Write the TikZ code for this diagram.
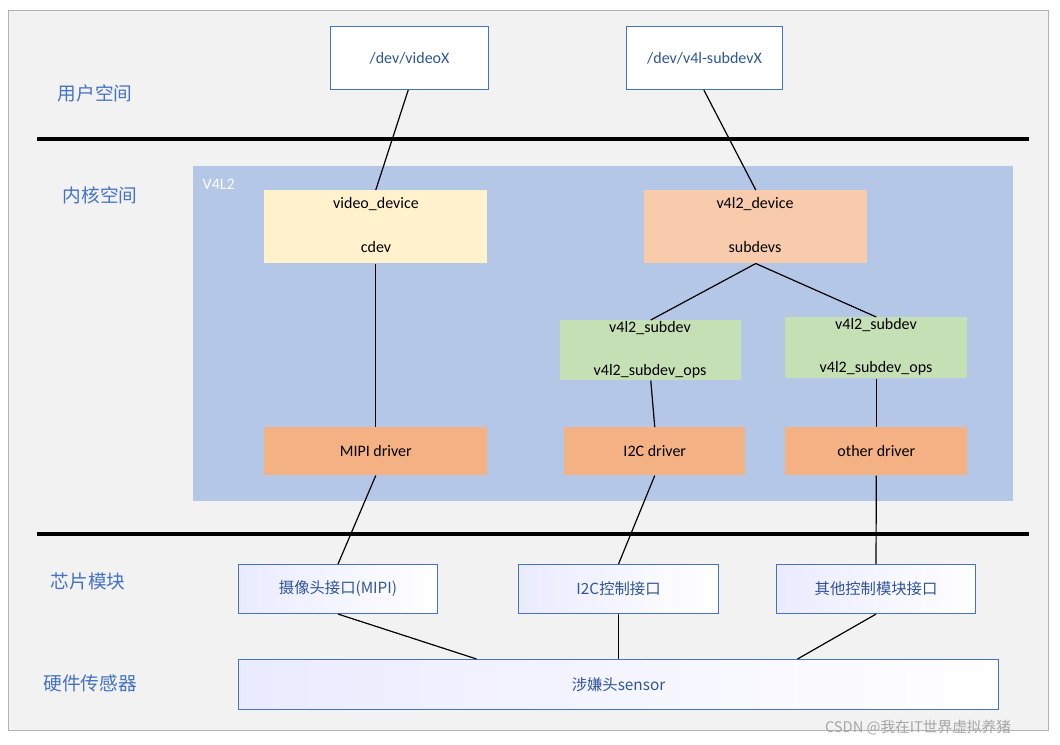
\documentclass[tikz,border=0pt]{standalone}
\usepackage{fontspec}
\setmainfont{Carlito}
\newfontfamily\cjk{Noto Sans CJK SC}
\definecolor{bl}{HTML}{4472C4}
\definecolor{tb}{HTML}{2F5597}
\definecolor{kern}{HTML}{B4C7E7}
\definecolor{yel}{HTML}{FFF2CC}
\definecolor{pch}{HTML}{F8CBAD}
\definecolor{grn}{HTML}{C5E0B4}
\definecolor{org}{HTML}{F4B183}
\definecolor{bgc}{HTML}{F2F2F2}
\begin{document}
\begin{tikzpicture}[x=0.75pt,y=-0.75pt,
  bx/.style 2 args={minimum width={#1*0.75pt},minimum height={#2*0.75pt},inner sep=0pt,anchor=north west},
  ubox/.style={draw=bl,fill=white,line width=0.8pt,font=\fontsize{12}{14}\selectfont,text=tb},
  gbox/.style={draw=bl,left color=blue!8!white,right color=white,line width=0.8pt,font=\cjk\fontsize{11.5}{13}\selectfont,text=tb},
  lbl/.style={font=\cjk\fontsize{14}{16}\selectfont,text=bl},
  t/.style={font=\fontsize{12}{14}\selectfont},
  con/.style={line width=0.9pt},
  sep/.style={line width=3.5pt}]
\useasboundingbox (0,0) rectangle (1060,745);
\fill[white] (0,0) rectangle (1060,745);
\draw[fill=bgc,draw=gray!60] (8,10) rectangle (1048,730);
% user space
\node[ubox,bx={158}{63}] (vx) at (330,26) {/dev/videoX};
\node[ubox,bx={156}{63}] (sx) at (626,26) {/dev/v4l-subdevX};
\node[lbl] (l1) at (95,93) {用户空间};
\draw[sep] (37,139) -- (1029,139);
% kernel
\node[lbl] (l2) at (100,195) {内核空间};
\node[fill=kern,bx={820}{335}] (k) at (193,166) {};
\node[text=white,t,anchor=west] (kl) at (198,184) {V4L2};
\node[fill=yel,bx={223}{73}] (vd) at (264,190) {};
\node[t] at (376,204) {video\_device};
\node[t] at (376,247) {cdev};
\node[fill=pch,bx={223}{73}] (dv) at (644,190) {};
\node[t] at (755,204) {v4l2\_device};
\node[t] at (755,247) {subdevs};
\node[fill=grn,bx={181}{60}] (s1) at (560,320) {};
\node[t] at (650,328) {v4l2\_subdev};
\node[t] at (650,371) {v4l2\_subdev\_ops};
\node[fill=grn,bx={182}{61}] (s2) at (785,317) {};
\node[t] at (876,325) {v4l2\_subdev};
\node[t] at (876,368) {v4l2\_subdev\_ops};
\node[fill=org,bx={223}{48},t] (d1) at (264,427) {MIPI driver};
\node[fill=org,bx={181}{48},t] (d2) at (564,427) {I2C driver};
\node[fill=org,bx={182}{48},t] (d3) at (785,427) {other driver};
\draw[sep] (37,534) -- (1029,534);
% chip
\node[lbl] (l3) at (88,581) {芯片模块};
\node[gbox,bx={199}{49}] (c1) at (238,564) {摄像头接口(MIPI)};
\node[gbox,bx={200}{49}] (c2) at (518,564) {I2C控制接口};
\node[gbox,bx={199}{49}] (c3) at (776,564) {其他控制模块接口};
\node[lbl] (l4) at (90,683) {硬件传感器};
\node[gbox,bx={760}{50}] (sn) at (238,659) {涉嫌头sensor};
\node[font=\cjk\fontsize{11}{13}\selectfont,text=gray!70] (wm) at (918,728) {CSDN @我在IT世界虚拟养猪};
% connectors
\draw[con] ([xshift=-1pt]vx.south) -- ([xshift=0pt]vd.north);
\draw[con] ([xshift=-0.5pt]sx.south) -- (dv.north);
\draw[con] (vd.south) -- (d1.north);
\draw[con] (dv.south) -- (s1.north);
\draw[con] (dv.south) -- (s2.north);
\draw[con] (s1.south) -- (d2.north);
\draw[con] (s2.south) -- (d3.north);
\draw[con] (d1.south) -- (c1.north);
\draw[con] (d2.south) -- (c2.north);
\draw[con] (d3.south) -- (c3.north);
\draw[con] (c1.south) -- ([xshift={-142*0.75pt}]sn.north);
\draw[con] (c2.south) -- (sn.north -| c2.south);
\draw[con] (c3.south) -- ([xshift={179*0.75pt}]sn.north);
\end{tikzpicture}
\end{document}
